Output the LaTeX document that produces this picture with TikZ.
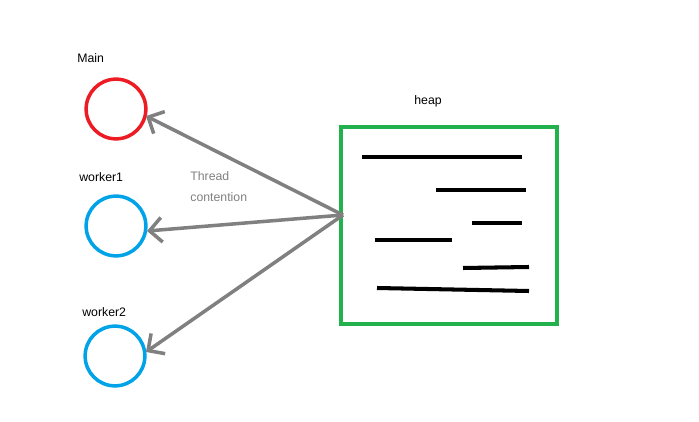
\documentclass[tikz,border=0pt]{standalone}
\usepackage{fontspec}
\setmainfont{Liberation Sans}
\usetikzlibrary{arrows.meta}
\definecolor{mainred}{RGB}{237,28,36}
\definecolor{workerblue}{RGB}{0,162,232}
\definecolor{heapgreen}{RGB}{34,177,76}
\tikzset{
    thread/.style={circle,draw,line width=2pt,minimum size=34pt,inner sep=0pt},
    lbl/.style={font=\fontsize{7}{9}\selectfont,anchor=west,inner sep=0pt},
    contention/.style={draw=gray,line width=2pt,-{Straight Barb[length=7pt,width=14pt,line width=2pt]}},
    bar/.style={line width=2.3pt}
}
\begin{document}
\begin{tikzpicture}[x=0.02cm,y=-0.02cm]
\useasboundingbox (0,0) rectangle (699,422);
% threads
\node[thread,draw=mainred] (main) at (116,109) {};
\node[thread,draw=workerblue] (w1) at (116,226) {};
\node[thread,draw=workerblue] (w2) at (115,356) {};
\node[lbl] (mainlbl) at (77,58) {Main};
\node[lbl] (w1lbl) at (79,177) {worker1};
\node[lbl] (w2lbl) at (82,312) {worker2};
% heap
\node[draw=heapgreen,line width=2.3pt,minimum width=216*0.02cm,minimum height=197*0.02cm,inner sep=0pt] (heap) at (449,225.5) {};
\node[lbl] (heaplbl) at (414,101) {heap};
\coordinate (src) at (343,215);
\draw[contention] (src) -- (146,116);
\draw[contention] (src) -- (147,231);
\draw[contention] (src) -- (146,352);
\node[lbl,text=gray,align=left] (cont) at (190,187) {Thread\\[3pt]contention};
% contents of heap
\draw[bar] (362,157) -- (522,157);
\draw[bar] (436,190) -- (526,190);
\draw[bar] (472,223) -- (522,223);
\draw[bar] (375,240) -- (452,240);
\draw[bar] (463,268) -- (529,267);
\draw[bar] (377,288) -- (529,291);
\end{tikzpicture}
\end{document}
